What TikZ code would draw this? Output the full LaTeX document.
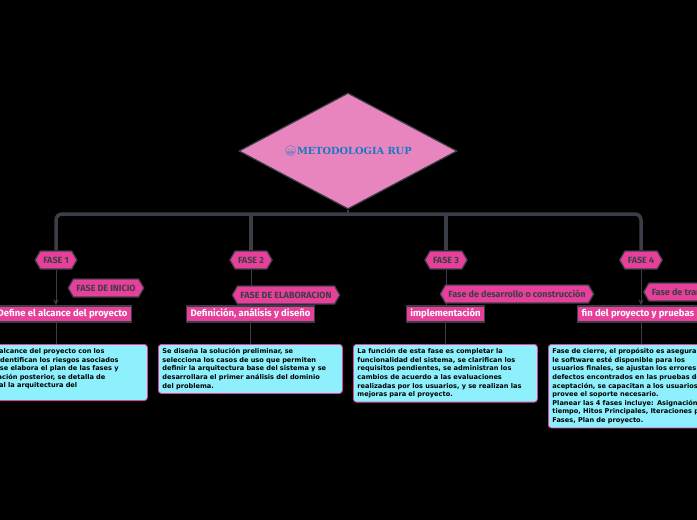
\documentclass[tikz,border=0pt]{standalone}
\usepackage{fontspec}
\setmainfont{DejaVu Sans}
\newfontfamily\labfont{Fira Sans}
\newfontfamily\titfont{DejaVu Serif}
\newfontfamily\emo{Noto Emoji}
\usetikzlibrary{shapes.geometric,shapes.symbols,arrows.meta}
\definecolor{bg}{HTML}{000000}
\definecolor{dk}{HTML}{3A3F47}
\definecolor{pk}{HTML}{E8409A}
\definecolor{lpk}{HTML}{E985BE}
\definecolor{cy}{HTML}{8EF0FC}
\definecolor{ttl}{HTML}{1A78BE}
\tikzset{
  hexa/.style={shape=signal, signal to=west and east, signal pointer angle=120, fill=pk, draw=dk, line width=1.2pt, text=dk, font=\labfont\bfseries\fontsize{9}{10}\selectfont, minimum height=18pt, inner xsep=3pt, inner ysep=0pt},
  prect/.style={fill=pk, draw=dk, line width=1.2pt, text=white, font=\labfont\bfseries\fontsize{9.5}{10}\selectfont, minimum height=16pt, inner xsep=4pt, inner ysep=0pt},
  bbox/.style={fill=cy, draw=pk, line width=0.8pt, rounded corners=3pt, align=left, anchor=north west, font=\bfseries\fontsize{6.6}{8.6}\selectfont, inner sep=4pt, text=black},
  bus/.style={draw=dk, line width=3.5pt, rounded corners=6pt},
  thinl/.style={draw=dk, line width=0.8pt},
}
\begin{document}
\begin{tikzpicture}[x=1pt,y=-1pt]
\clip (0,0) rectangle (697,520);
\fill[bg] (0,0) rectangle (697,520);
\node[diamond, fill=lpk, draw=dk, line width=1.2pt, minimum width=218pt, minimum height=116pt, inner sep=0pt, aspect=1.88] (dia) at (348,151) {};
\node[font=\titfont\bfseries\fontsize{9.8}{10}\selectfont, text=ttl] (title) at (348,151) {{\emo\fontsize{10}{10}\selectfont 😁}METODOLOGIA RUP};
\node[hexa] (f1) at (56,260) {FASE 1};
\node[hexa] (f2) at (251,260) {FASE 2};
\node[hexa] (f3) at (446,260) {FASE 3};
\node[hexa] (f4) at (641,260) {FASE 4};
\coordinate (busc) at (348,214);
\draw[bus] (f1.north) -- (f1.north |- busc) -- (f4.north |- busc) -- (f4.north);
\draw[bus] (f2.north) -- (f2.north |- busc);
\draw[bus] (f3.north) -- (f3.north |- busc);
\draw[draw=dk, line width=2pt] (dia.south) -- (busc);
\node[prect, anchor=east] (r1) at (132,314) {Define el alcance del proyecto};
\node[prect] (r2) at (250.5,314) {Definición, análisis y diseño};
\node[prect] (r3) at (445.5,314) {implementación};
\node[prect, anchor=west] (r4) at (577,314) {fin del proyecto y pruebas};
\draw[thinl,-{Stealth[length=6pt,width=5pt]}] (f1.south) -- (f1.south |- r1.north);
\draw[thinl] (f2.south) -- (f2.south |- r2.north);
\draw[thinl] (f3.south) -- (f3.south |- r3.north);
\draw[thinl,-{Stealth[length=6pt,width=5pt]}] (f4.south) -- (f4.south |- r4.north);
\node[hexa] (s1) at (106,288) {FASE DE INICIO};
\node[hexa] (s2) at (286,295) {FASE DE ELABORACION};
\node[hexa] (s3) at (517,294) {Fase de desarrollo o construcción};
\node[hexa, anchor=west] (s4) at (643,292) {Fase de transición};
\node[bbox, text width=190pt] (b1) at (-51,344) {Se define el alcance del proyecto con los\\clientes, se identifican los riesgos asociados\\al proyecto, se elabora el plan de las fases y\\de cada iteración posterior, se detalla de\\forma general la arquitectura del\\software.};
\node[bbox, text width=176pt] (b2) at (158,344) {Se diseña la solución preliminar, se\\selecciona los casos de uso que permiten\\definir la arquitectura base del sistema y se\\desarrollara el primer análisis del dominio\\del problema.};
\node[bbox, text width=176pt] (b3) at (353,344) {La función de esta fase es completar la\\funcionalidad del sistema, se clarifican los\\requisitos pendientes, se administran los\\cambios de acuerdo a las evaluaciones\\realizadas por los usuarios, y se realizan las\\mejoras para el proyecto.};
\node[bbox, text width=176pt] (b4) at (548,344) {Fase de cierre, el propósito es asegurar que\\le software esté disponible para los\\usuarios finales, se ajustan los errores y\\defectos encontrados en las pruebas de\\aceptación, se capacitan a los usuarios y se\\provee el soporte necesario.\\Planear las 4 fases incluye: Asignación de\\tiempo, Hitos Principales, Iteraciones por\\Fases, Plan de proyecto.};
\draw[thinl] (r1.south -| f1) -- (b1.north -| f1);
\draw[thinl] (r2.south) -- (b2.north -| r2.south);
\draw[thinl] (r3.south) -- (b3.north -| r3.south);
\draw[thinl] (r4.south -| f4) -- (b4.north -| f4);
\end{tikzpicture}
\end{document}
